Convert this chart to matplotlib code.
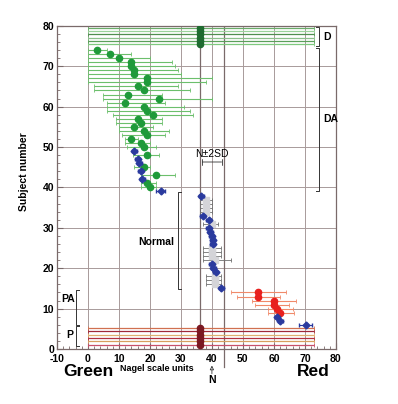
import matplotlib
matplotlib.use("Agg")
import matplotlib.pyplot as plt
import numpy as np

plt.rcParams['font.family'] = ['Liberation Sans', 'DejaVu Sans']
plt.rcParams['axes.unicode_minus'] = False

# deuteranopes (D): full range lines with match at 36
d_subj = [75.5, 76.3, 77.0, 78.0, 78.8, 79.5]
d_match = [36, 36, 36, 36, 36, 36]
d_lo = [0, 0, 0, 0, 0, 0]
d_hi = [73, 73, 73, 73, 73, 73]
d_colors = ['#7fc97f', '#5aa05a', '#8cc08c', '#4f8f4f', '#9bd39b', '#6aad6a']

# protanopes (P)
p_subj = [1.0, 1.9, 2.7, 3.5, 4.4, 5.3]
p_match = [36, 36, 36, 36, 36, 36]
p_lo = [0, 0, 0, 0, 0, 0]
p_hi = [73, 73, 73, 73, 73, 73]
p_colors = ['#c8506a', '#d8a060', '#b03040', '#e0b070', '#a02838', '#d07050']

# deuteranomalous (DA), green circles
da_subj = [74, 73, 72, 71, 70, 69, 68, 67, 66, 65, 64, 63, 62, 61, 60, 59, 58,
           57, 56, 55, 54, 53, 52, 51, 50, 48, 45, 43, 41, 40]
da_x = [3, 7, 10, 14, 14, 15, 15, 19, 19, 16, 18, 13, 23, 12, 18, 19, 21,
        16, 17, 15, 18, 19, 14, 17, 18, 19, 18, 22, 19, 20]
da_lo = [0, 0, 0, 0, 0, 0, 0, 0, 0, 2, 2, 5, 5, 6, 6, 6, 8,
         9, 9, 10, 10, 11, 12, 12, 12.5, 14.5, 15, 17, 17, 17]
da_hi = [6, 14, 20, 27, 28, 29, 30, 40, 38, 29, 33, 24, 40, 25, 31, 33, 34,
         24, 24, 21, 26, 25, 16, 20, 22, 23, 20, 28, 22, 22]

# single matches (blue diamonds)
blue_subj = [49, 47, 46, 44, 42, 39, 38, 33, 32, 30, 29, 28, 27, 26, 21, 20, 19, 15, 8, 7, 6]
blue_x = [15, 16, 16.6, 17, 17.5, 23.5, 36.5, 37, 39, 39, 39.5, 40, 40.2, 40.2,
          40, 40.4, 41.3, 43, 61, 62, 70.2]
blue_err = [0.8, 0.8, 0.8, 0.8, 0.8, 1.5, 0.8, 0.8, 0.8, 0.8, 0.8, 0.8, 0.8, 0.8,
            0.8, 0.8, 0.8, 0.8, 0.8, 0.8, 2]

# normal observers with ranges (grey)
nrm_subj = [37, 36, 35, 34, 31, 25, 24, 23, 22, 18, 17, 16]
nrm_x = [38, 38, 38, 38, 40, 40, 40, 40, 41, 41, 41, 41]
nrm_lo = [36, 36, 36, 36, 37, 37, 37, 37, 37, 38, 38, 38]
nrm_hi = [40, 40, 40, 40, 42, 43, 43, 43, 46, 43, 43, 43]

# protanomalous (PA), red circles
pa_subj = [14, 13, 12, 11, 10, 9]
pa_x = [55, 55, 60, 60, 61, 62]
pa_lo = [46, 48, 53, 54, 58, 58]
pa_hi = [64, 62, 67, 65, 66, 66.5]

fig = plt.figure(figsize=(3.98, 4.04), dpi=100)
ax = fig.add_axes([0.143, 0.136, 0.701, 0.80])

grid_c = '#a89a9a'
for gx in [0, 10, 20, 30, 40, 50, 60, 70]:
    ax.axvline(gx, color=grid_c, lw=0.7, zorder=0)
for gy in [10, 20, 30, 40, 50, 60, 70]:
    ax.axhline(gy, color=grid_c, lw=0.7, zorder=0)
ax.axvline(36, color='#7a6a6a', lw=0.9, zorder=0)
ax.plot([44, 44], [0, -4.5], color='#7a6a6a', lw=0.9, clip_on=False)
ax.axvline(44, color='#7a6a6a', lw=0.9, zorder=0)

# D and P full-range lines
for y, m, lo, hi, c in zip(d_subj, d_match, d_lo, d_hi, d_colors):
    ax.errorbar(m, y, xerr=[[m - lo], [hi - m]], fmt='none', ecolor=c,
                elinewidth=0.9, capsize=1.5, capthick=0.6, zorder=2)
for y, m, lo, hi, c in zip(p_subj, p_match, p_lo, p_hi, p_colors):
    ax.errorbar(m, y, xerr=[[m - lo], [hi - m]], fmt='none', ecolor=c,
                elinewidth=0.9, capsize=1.5, capthick=0.6, zorder=2)
ax.plot(d_match, d_subj, 'o', color='#1e6b30', ms=4.5, zorder=4)
ax.plot(p_match, p_subj, 'o', color='#7a1822', ms=4.5, zorder=4)

# DA
da_x_a = np.array(da_x, float)
ax.errorbar(da_x_a, da_subj,
            xerr=[da_x_a - np.array(da_lo), np.array(da_hi) - da_x_a],
            fmt='o', color='#1f9a3a', ms=4.5, ecolor='#6cbf6c',
            elinewidth=0.8, capsize=1.5, capthick=0.6, zorder=3)

# Normal ranges
nrm_x_a = np.array(nrm_x, float)
ax.errorbar(nrm_x_a, nrm_subj,
            xerr=[nrm_x_a - np.array(nrm_lo), np.array(nrm_hi) - nrm_x_a],
            fmt='s', color='#d4d4d8', ms=5, ecolor='#707070',
            elinewidth=0.6, capsize=1.5, capthick=0.6, zorder=3)

# PA
pa_x_a = np.array(pa_x, float)
ax.errorbar(pa_x_a, pa_subj,
            xerr=[pa_x_a - np.array(pa_lo), np.array(pa_hi) - pa_x_a],
            fmt='o', color='#e8201e', ms=4.5, ecolor='#f08a6a',
            elinewidth=0.8, capsize=1.5, capthick=0.6, zorder=3)

# blue single matches
ax.errorbar(blue_x, blue_subj, xerr=blue_err, fmt='D', color='#2a3a9e', ms=3.5,
            ecolor='#2a3a9e', elinewidth=0.8, capsize=1.2, zorder=5)

ax.set_xlim(-10, 80)
ax.set_ylim(0, 80)
ax.set_xticks(range(-10, 81, 10))
ax.set_yticks(range(0, 81, 10))
ax.set_xticks(range(-10, 81, 2), minor=True)
ax.set_yticks(range(0, 81, 2), minor=True)
ax.tick_params(which='both', direction='in', color='#7a6a6a')
ax.tick_params(which='major', length=4, labelsize=7.5)
ax.tick_params(axis='x', which='major', pad=3.5)
ax.tick_params(axis='y', which='major', pad=2)
ax.tick_params(which='minor', length=2)
for lab in ax.get_xticklabels() + ax.get_yticklabels():
    lab.set_fontweight('bold')
for sp in ax.spines.values():
    sp.set_color('#7a6a6a')
    sp.set_linewidth(0.9)

ax.set_ylabel('Subject number', fontsize=7.5, fontweight='bold')
ax.yaxis.set_label_coords(-0.1, 0.55)

# group brackets
bk = '#333333'
ax.plot([73.5, 74.5, 74.5, 73.5], [79.6, 79.6, 75.0, 75.0], color=bk, lw=0.7, clip_on=False)
ax.text(75.8, 77.3, 'D', fontsize=7.5, fontweight='bold', va='center')
ax.plot([73.5, 74.5, 74.5, 73.5], [74.5, 74.5, 39.0, 39.0], color=bk, lw=0.7, clip_on=False)
ax.text(75.8, 57, 'DA', fontsize=7.5, fontweight='bold', va='center')
ax.plot([30, 29, 29, 30], [38.8, 38.8, 14.8, 14.8], color=bk, lw=0.7)
ax.text(22, 26.5, 'Normal', fontsize=7.5, fontweight='bold', ha='center', va='center')
ax.plot([-3, -3.7, -3.7, -3], [14.6, 14.6, 6.0, 6.0], color=bk, lw=0.7)
ax.text(-6.3, 12.5, 'PA', fontsize=7.5, fontweight='bold', ha='center', va='center')
ax.plot([-3, -3.7, -3.7, -3], [5.6, 5.6, 0.8, 0.8], color=bk, lw=0.7)
ax.text(-6.0, 3.5, 'P', fontsize=7.5, fontweight='bold', ha='center', va='center')

# N +/- 2SD
ax.text(40, 48.2, 'N±2SD', fontsize=7.5, ha='center', va='center')
ax.annotate('', xy=(36, 46.3), xytext=(44, 46.3),
            arrowprops=dict(arrowstyle='|-|', lw=0.6, color='#333333',
                            mutation_scale=2))

# bottom labels
ax.text(0.3, -5.5, 'Green', fontsize=12.5, fontweight='bold', ha='center', va='center',
        clip_on=False)
ax.text(72.6, -5.5, 'Red', fontsize=12.5, fontweight='bold', ha='center', va='center',
        clip_on=False)
ax.text(22.2, -4.8, 'Nagel scale units', fontsize=6.5, fontweight='bold', ha='center',
        va='center', clip_on=False)
ax.annotate('', xy=(40, -3.4), xytext=(40, -6.8),
            arrowprops=dict(arrowstyle='-|>', fc='white', ec='#333333', lw=0.6,
                            mutation_scale=6), annotation_clip=False)
ax.text(40, -7.7, 'N', fontsize=7.5, fontweight='bold', ha='center', va='center',
        clip_on=False)

fig.savefig('out.png', dpi=100)
